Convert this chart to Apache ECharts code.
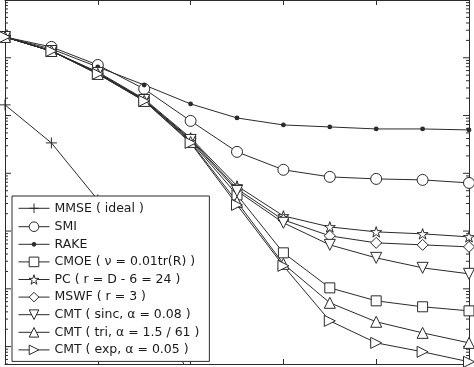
<!DOCTYPE html>
<html>
<head>
<meta charset="utf-8">
<script src="https://cdn.jsdelivr.net/npm/echarts@6/dist/echarts.min.js"></script>
<style>
html, body { margin: 0; padding: 0; background: #fff; }
#chart { width: 474px; height: 367px; }
</style>
</head>
<body>
<div id="chart"></div>
<script>
// x positions (11 points) and log-scale values
var xValues = [0, 1, 2, 3, 4, 5, 6, 7, 8, 9, 10];
var mmseData = [0.0153, 0.00336, 3.47e-4, 1.17e-5, 2.9e-7, null, null, null, null, null, null];
var smiData  = [0.229, 0.154, 0.075, 0.0289, 0.00807, 0.00235, 0.00115, 8.67e-4, 8.0e-4, 7.69e-4, 6.82e-4];
var rakeData = [0.229, 0.142, 0.0693, 0.0338, 0.0159, 0.00908, 0.00687, 0.00635, 0.00586, 0.00586, 0.00563];
var cmoeData = [0.229, 0.131, 0.0546, 0.0186, 0.00364, 4.23e-4, 4.20e-5, 1.04e-5, 6.20e-6, 4.89e-6, 4.16e-6];
var pcData   = [0.229, 0.131, 0.0568, 0.0194, 0.00410, 6.05e-4, 1.83e-4, 1.18e-4, 9.69e-5, 8.95e-5, 7.94e-5];
var mswfData = [0.229, 0.131, 0.0546, 0.0186, 0.00394, 5.37e-4, 1.56e-4, 8.26e-5, 6.25e-5, 5.77e-5, 5.33e-5];
var sincData = [0.229, 0.131, 0.0546, 0.0186, 0.00378, 4.96e-4, 1.39e-4, 5.77e-5, 3.44e-5, 2.31e-5, 1.82e-5];
var triData  = [0.229, 0.131, 0.0525, 0.0179, 0.00349, 3.20e-4, 2.71e-5, 5.73e-6, 2.69e-6, 1.73e-6, 1.16e-6];
var expData  = [0.229, 0.131, 0.0525, 0.0179, 0.00336, 2.84e-4, 2.50e-5, 2.79e-6, 1.16e-6, 8.13e-7, 5.46e-7];

var seriesNames = [
	'MMSE ( ideal )',
	'SMI',
	'RAKE',
	'CMOE ( ν = 0.01tr(R) )',
	'PC ( r = D - 6 = 24 )',
	'MSWF ( r = 3 )',
	'CMT ( sinc, α = 0.08 )',
	'CMT ( tri, α = 1.5 / 61 )',
	'CMT ( exp, α = 0.05 )'
];

// log axis ticks
var yMin = 5e-7;
var yMax = 1;
var decades = [1e-7, 1e-6, 1e-5, 1e-4, 1e-3, 1e-2, 1e-1, 1];
var minorSteps = [2, 3, 4, 5, 6, 7, 8, 9];

var ink = '#2b2b2b';

var plusPath = 'path://M-5,0 L5,0 M0,-5 L0,5';
var dotPath = 'path://M-5,-5 L-5,-5 Z M5,5 L5,5 Z M0,-2 A2,2 0 1 1 0,2 A2,2 0 1 1 0,-2 Z';
var starPath = 'path://M0,-10 L2.245,-3.09 L9.51,-3.09 L3.63,1.18 L5.88,8.09 L0,3.82 L-5.88,8.09 L-3.63,1.18 L-9.51,-3.09 L-2.245,-3.09 Z';

function pairs(values) {
	var out = [];
	for (var i = 0; i < xValues.length; i++) {
		out.push([xValues[i], values[i]]);
	}
	return out;
}

function makeLine(name, values, symbol, size, rotate, fill) {
	return {
		name: name,
		type: 'line',
		data: pairs(values),
		symbol: symbol,
		symbolSize: size,
		symbolRotate: rotate,
		symbolKeepAspect: true,
		showAllSymbol: true,
		connectNulls: false,
		clip: true,
		lineStyle: { color: ink, width: 1 },
		itemStyle: { color: fill, borderColor: ink, borderWidth: fill === ink ? 0 : 1 },
		emphasis: { disabled: true },
		z: 3
	};
}

var tickData = [];
for (var d = 0; d < decades.length; d++) {
	if (decades[d] >= yMin && decades[d] <= yMax) tickData.push([0, decades[d], 1]);
	for (var m = 0; m < minorSteps.length; m++) {
		var v = decades[d] * minorSteps[m];
		if (v >= yMin && v < yMax) tickData.push([0, v, 0]);
	}
}

function renderTick(params, api) {
	var val = api.value(1);
	var len = api.value(2) ? 6 : 3;
	var a = api.coord([0, val]);
	var b = api.coord([10, val]);
	var st = { stroke: ink, lineWidth: 1 };
	return {
		type: 'group',
		children: [
			{ type: 'line', shape: { x1: a[0], y1: a[1], x2: a[0] + len, y2: a[1] }, style: st },
			{ type: 'line', shape: { x1: b[0] - len, y1: b[1], x2: b[0], y2: b[1] }, style: st }
		]
	};
}

var xAxisBase = function(pos) {
	return {
		type: 'value',
		position: pos,
		min: 0,
		max: 10,
		interval: 2,
		axisLine: { show: true, onZero: false, lineStyle: { color: ink, width: 1 } },
		axisTick: { show: true, inside: true, length: 5, lineStyle: { color: ink } },
		axisLabel: { show: false },
		splitLine: { show: false }
	};
};
var yAxisBase = function(pos) {
	return {
		type: 'log',
		logBase: 10,
		position: pos,
		min: yMin,
		max: yMax,
		axisLine: { show: true, onZero: false, lineStyle: { color: ink, width: 1 } },
		axisTick: { show: false },
		axisLabel: { show: false },
		splitLine: { show: false }
	};
};

var chart = echarts.init(document.getElementById('chart'));
chart.setOption({
	animation: false,
	backgroundColor: '#fff',
	grid: { left: 5, right: 5, top: 0, bottom: 3 },
	xAxis: [xAxisBase('bottom'), xAxisBase('top')],
	yAxis: [yAxisBase('left'), yAxisBase('right')],
	legend: {
		data: seriesNames,
		orient: 'vertical',
		left: 12,
		top: 196,
		height: 240,
		itemWidth: 31,
		itemHeight: 12,
		itemGap: 4.6,
		padding: [5, 10, 5, 6],
		backgroundColor: '#fff',
		borderColor: ink,
		borderWidth: 1,
		borderRadius: 0,
		selectedMode: false,
		lineStyle: { width: 1, color: ink },
		itemStyle: { borderWidth: 1 },
		textStyle: { fontFamily: 'DejaVu Sans', fontSize: 12.5, lineHeight: 12, color: '#1a1a1a' }
	},
	series: [
		{
			type: 'custom',
			name: 'ticks',
			data: tickData,
			renderItem: renderTick,
			silent: true,
			clip: false,
			z: 2
		},
		makeLine(seriesNames[0], mmseData, plusPath, 11, 0, 'none'),
		makeLine(seriesNames[1], smiData, 'circle', 11, 0, '#fff'),
		makeLine(seriesNames[2], rakeData, dotPath, 12, 0, ink),
		makeLine(seriesNames[3], cmoeData, 'rect', 10, 0, '#fff'),
		makeLine(seriesNames[4], pcData, starPath, 11, 0, '#fff'),
		makeLine(seriesNames[5], mswfData, 'diamond', 11, 0, '#fff'),
		makeLine(seriesNames[6], sincData, 'triangle', 11, 180, '#fff'),
		makeLine(seriesNames[7], triData, 'triangle', 11, 0, '#fff'),
		makeLine(seriesNames[8], expData, 'triangle', 11, -90, '#fff')
	]
});
</script>
</body>
</html>
